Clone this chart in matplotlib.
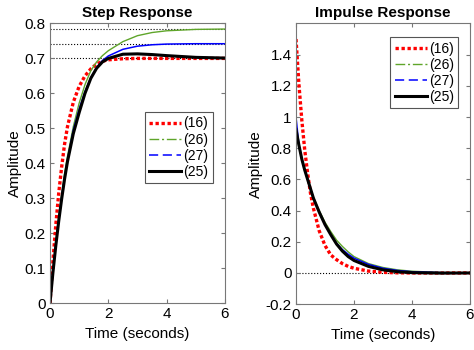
import matplotlib
matplotlib.use('Agg')
import matplotlib.pyplot as plt
from matplotlib.lines import Line2D
from matplotlib.ticker import FormatStrFormatter

plt.rcParams['font.family'] = ['Liberation Sans', 'DejaVu Sans']

# sample times (s)
t = [0, 0.1, 0.2, 0.3, 0.4, 0.5, 0.6, 0.8, 1.0, 1.2, 1.4, 1.6, 1.8, 2.0, 2.5, 3.0, 3.5, 4.0, 5.0, 6.0]

# step responses
step16 = [0, 0.12, 0.225, 0.315, 0.39, 0.455, 0.505, 0.575, 0.62, 0.65, 0.67, 0.684, 0.692, 0.696, 0.699, 0.70, 0.70, 0.70, 0.70, 0.70]
step26 = [0, 0.09, 0.17, 0.245, 0.31, 0.37, 0.42, 0.505, 0.572, 0.625, 0.665, 0.69, 0.708, 0.722, 0.748, 0.765, 0.774, 0.779, 0.783, 0.784]
step27 = [0, 0.09, 0.168, 0.24, 0.303, 0.36, 0.41, 0.495, 0.555, 0.605, 0.645, 0.674, 0.694, 0.707, 0.726, 0.735, 0.739, 0.741, 0.742, 0.742]
step25 = [0, 0.087, 0.165, 0.235, 0.298, 0.355, 0.405, 0.485, 0.545, 0.60, 0.643, 0.672, 0.69, 0.70, 0.712, 0.713, 0.711, 0.708, 0.703, 0.701]
finals = [0.70, 0.742, 0.784]

# impulse responses
imp16 = [1.50, 1.21, 0.98, 0.79, 0.64, 0.51, 0.415, 0.27, 0.176, 0.115, 0.085, 0.06, 0.042, 0.03, 0.012, 0.004, 0.001, 0, 0, 0]
imp26 = [0.90, 0.81, 0.73, 0.66, 0.60, 0.54, 0.485, 0.40, 0.325, 0.265, 0.21, 0.17, 0.135, 0.105, 0.06, 0.035, 0.02, 0.011, 0.003, 0.001]
imp27 = [1.00, 0.82, 0.73, 0.66, 0.60, 0.54, 0.48, 0.39, 0.31, 0.245, 0.19, 0.15, 0.12, 0.095, 0.055, 0.03, 0.016, 0.008, 0.002, 0]
imp25 = [0.92, 0.82, 0.73, 0.66, 0.60, 0.54, 0.48, 0.39, 0.31, 0.245, 0.185, 0.14, 0.105, 0.08, 0.042, 0.02, 0.008, 0.002, -0.001, 0]

labels = ['(16)', '(26)', '(27)', '(25)']
colors = ['red', '#5fa52a', 'blue', 'black']

fig = plt.figure(figsize=(4.74, 3.5), dpi=100)
ax1 = fig.add_axes([0.1055, 0.134, 0.369, 0.799])
ax2 = fig.add_axes([0.6245, 0.131, 0.367, 0.802])

# legend entries keep the line styles; the curves themselves look nearly solid in the original
handles = [
	Line2D([], [], color=colors[0], lw=2.4, dashes=(1, 0.8)),
	Line2D([], [], color=colors[1], lw=1.0, dashes=(7, 2, 1.5, 2)),
	Line2D([], [], color=colors[2], lw=1.1, dashes=(6, 3)),
	Line2D([], [], color=colors[3], lw=2.2),
]

def draw(ax, y16, y26, y27, y25):
	ax.plot(t, y16, color=colors[0], lw=2.4, dashes=(1, 0.7))
	ax.plot(t, y26, color=colors[1], lw=1.0)
	ax.plot(t, y27, color=colors[2], lw=1.1)
	ax.plot(t, y25, color=colors[3], lw=2.2)

for v in finals:
	ax1.plot([0, 6], [v, v], color='black', lw=0.8, ls=':', zorder=0)
draw(ax1, step16, step26, step27, step25)
ax2.plot([0, 6], [0, 0], color='black', lw=0.8, ls=':', zorder=0)
draw(ax2, imp16, imp26, imp27, imp25)

ax1.set_ylim(0, 0.8)
ax1.set_yticks([0, 0.1, 0.2, 0.3, 0.4, 0.5, 0.6, 0.7, 0.8])
ax2.set_ylim(-0.2, 1.6)
ax2.set_yticks([-0.2, 0, 0.2, 0.4, 0.6, 0.8, 1.0, 1.2, 1.4])

for ax, title in [(ax1, 'Step Response'), (ax2, 'Impulse Response')]:
	ax.set_xlim(0, 6)
	ax.set_xticks([0, 2, 4, 6])
	ax.yaxis.set_major_formatter(FormatStrFormatter('%g'))
	ax.tick_params(direction='in', top=True, right=True, labelsize=11, length=3, color='#777777', pad=3)
	for s in ax.spines.values():
		s.set_color('#777777')
		s.set_linewidth(0.8)
	ax.set_title(title, fontsize=11, fontweight='bold', pad=5)
	ax.set_xlabel('Time (seconds)', fontsize=11)
	ax.set_ylabel('Amplitude', fontsize=11, labelpad=2)

leg1 = ax1.legend(handles, labels, loc='lower right', bbox_to_anchor=(0.93, 0.43), fontsize=10, handlelength=2.3,
	handletextpad=0.15, borderpad=0.3, labelspacing=0.15, fancybox=False, framealpha=1, borderaxespad=0)
leg1.get_frame().set_edgecolor('#555555')
leg1.get_frame().set_linewidth(0.8)
leg2 = ax2.legend(handles, labels, loc='upper right', bbox_to_anchor=(0.93, 0.95), fontsize=10, handlelength=2.3,
	handletextpad=0.15, borderpad=0.3, labelspacing=0.15, fancybox=False, framealpha=1, borderaxespad=0)
leg2.get_frame().set_edgecolor('#555555')
leg2.get_frame().set_linewidth(0.8)

fig.savefig('out.png', dpi=100)
